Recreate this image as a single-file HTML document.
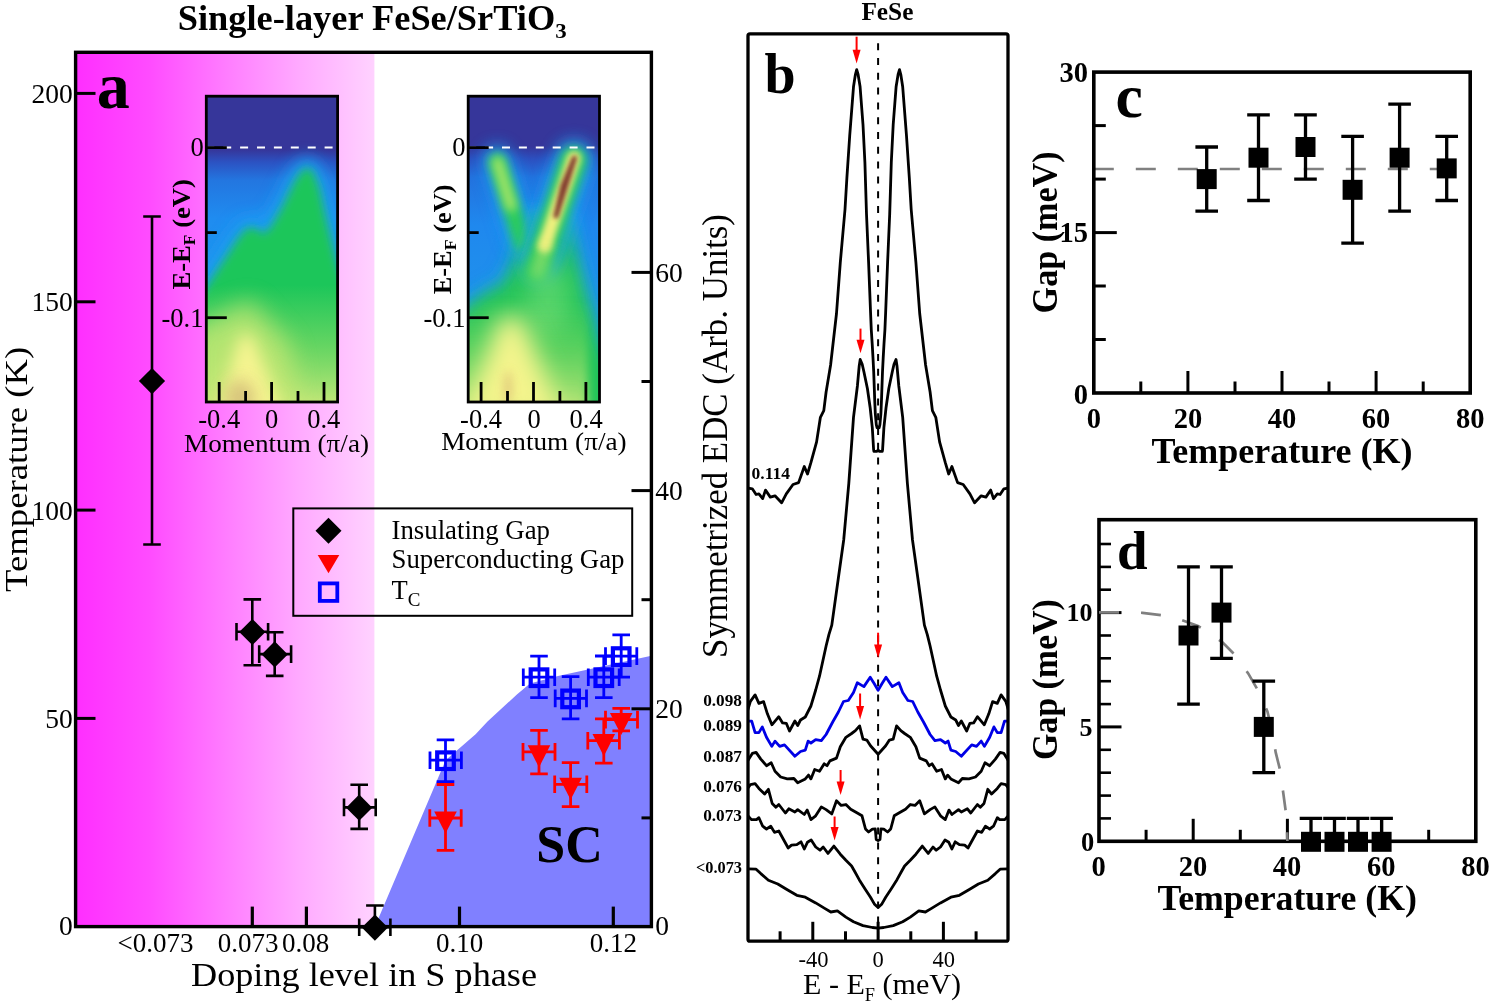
<!DOCTYPE html>
<html lang="en"><head><meta charset="utf-8"><title>Single-layer FeSe/SrTiO3 phase diagram</title>
<style>html,body{margin:0;padding:0;background:#fff}svg{display:block}text{font-family:'Liberation Serif', serif}</style>
</head><body>
<svg width="1489" height="1004" viewBox="0 0 1489 1004">
<defs>
<linearGradient id="mag" x1="0" x2="1" y1="0" y2="0">
<stop offset="0" stop-color="#ff2eff"/><stop offset="0.25" stop-color="#ff4cff"/><stop offset="0.5" stop-color="#ff7cff"/><stop offset="0.75" stop-color="#ffaaff"/><stop offset="1" stop-color="#ffd2ff"/>
</linearGradient>
</defs>
<rect width="1489" height="1004" fill="#fff"/>
<g id="panel-a">
<rect x="75.6" y="52.3" width="298.8" height="874.3" fill="url(#mag)"/>
<polygon points="375,926.6 445.6,760.2 475.6,734.2 487.5,721.5 516.9,694.5 530,683.5 558,676 651.4,655.8 651.4,926.6" fill="#8080ff"/>
<defs>
<filter id="b2" filterUnits="userSpaceOnUse" x="150" y="40" width="520" height="420"><feGaussianBlur stdDeviation="2"/></filter>
<filter id="b3" filterUnits="userSpaceOnUse" x="150" y="40" width="520" height="420"><feGaussianBlur stdDeviation="3.2"/></filter>
<filter id="b5" filterUnits="userSpaceOnUse" x="150" y="40" width="520" height="420"><feGaussianBlur stdDeviation="5"/></filter>
<filter id="b8" filterUnits="userSpaceOnUse" x="150" y="40" width="520" height="420"><feGaussianBlur stdDeviation="8"/></filter>
<filter id="b12" filterUnits="userSpaceOnUse" x="150" y="40" width="520" height="420"><feGaussianBlur stdDeviation="12"/></filter>
<linearGradient id="ig1" x1="0" x2="0" y1="0" y2="1">
<stop offset="0" stop-color="#36369a"/><stop offset="0.175" stop-color="#36369a"/>
<stop offset="0.215" stop-color="#2c52c2"/><stop offset="0.275" stop-color="#2376e0"/>
<stop offset="0.40" stop-color="#1f8cf0"/><stop offset="0.66" stop-color="#1f98ec"/>
<stop offset="0.73" stop-color="#22bb70"/><stop offset="1" stop-color="#1cc65a"/>
</linearGradient>
<linearGradient id="ig2" x1="0" x2="0" y1="0" y2="1">
<stop offset="0" stop-color="#36369a"/><stop offset="0.165" stop-color="#36369a"/>
<stop offset="0.205" stop-color="#2c50c0"/><stop offset="0.265" stop-color="#2372de"/>
<stop offset="0.42" stop-color="#1f88ee"/><stop offset="0.80" stop-color="#1f96ea"/>
<stop offset="0.88" stop-color="#22bb70"/><stop offset="1" stop-color="#22c45c"/>
</linearGradient>
<linearGradient id="yg" x1="0" x2="0" y1="0" y2="1">
<stop offset="0" stop-color="#9be068" stop-opacity="0"/><stop offset="0.45" stop-color="#9be068" stop-opacity="0.55"/><stop offset="1" stop-color="#e4ee80" stop-opacity="0.95"/>
</linearGradient>
<clipPath id="ci1"><rect x="206.3" y="96.2" width="131.3" height="305.8"/></clipPath>
<clipPath id="ci2"><rect x="468.2" y="96.2" width="131.3" height="305.8"/></clipPath>
</defs>
<g clip-path="url(#ci1)">
<rect x="206.3" y="96.2" width="132" height="306" fill="url(#ig1)"/>
<path d="M186 318 L212 281 L227 258 L240 238 L248 229 L256 230 L263 236 L272 228 L284 207 L296 182 L302 173 L307 169 L312 173 L318 189 L324 216 L334 257 L352 318 L352 420 L186 420 Z" fill="#1f9cf2" stroke="#1f9cf2" stroke-width="24" stroke-linejoin="round" filter="url(#b8)" opacity="0.95"/>
<path d="M186 318 L212 281 L227 258 L240 238 L248 229 L256 230 L263 236 L272 228 L284 207 L296 182 L302 173 L307 169 L312 173 L318 189 L324 216 L334 257 L352 318 L352 420 L186 420 Z" fill="#1cc65a" stroke="#1cc65a" stroke-width="3" stroke-linejoin="round" filter="url(#b5)"/>
<rect x="190" y="285" width="170" height="130" fill="url(#yg)"/>
<path d="M190 330 L250 300 L290 345 L300 420 L190 420 Z" fill="#c8e874" filter="url(#b12)" opacity="0.8"/>
<path d="M215 420 L240 335 L252 335 L285 420 Z" fill="#f6f490" filter="url(#b8)"/>
<ellipse cx="240" cy="398" rx="15" ry="18" fill="#d2bc78" filter="url(#b8)" opacity="0.85"/>
</g>
<g clip-path="url(#ci2)">
<rect x="468.2" y="96.2" width="132" height="306" fill="url(#ig2)"/>
<path d="M446 326 L462 313 L470.4 306 L478.7 299 L490 292 L505 284 L515 262 L527 218 L566 218 L577.8 270 L583.3 291 L590.3 312 L594.5 326 L598 340 L606 362 L618 420 L446 420 Z" fill="#1f9cf2" stroke="#1f9cf2" stroke-width="18" stroke-linejoin="round" filter="url(#b8)" opacity="0.8"/>
<path d="M446 326 L462 313 L470.4 306 L478.7 299 L490 292 L505 284 L515 262 L527 218 L566 218 L577.8 270 L583.3 291 L590.3 312 L594.5 326 L598 340 L606 362 L618 420 L446 420 Z" fill="#20c458" stroke="#20c458" stroke-width="4" stroke-linejoin="round" filter="url(#b8)"/>
<path d="M497 160 L522 240" stroke="#1f9cf2" stroke-width="30" stroke-linecap="round" fill="none" filter="url(#b8)" opacity="0.85"/>
<path d="M497.5 162 L523 244" stroke="#2ccc5c" stroke-width="18" stroke-linecap="round" fill="none" filter="url(#b5)"/>
<path d="M497.5 162 L511 206" stroke="#a8e468" stroke-width="10.5" stroke-linecap="round" fill="none" filter="url(#b5)"/>
<path d="M574 160 L540 262" stroke="#1fa0f2" stroke-width="40" stroke-linecap="round" fill="none" filter="url(#b8)" opacity="0.9"/>
<path d="M573.5 160 L536 272" stroke="#2cca5a" stroke-width="27" stroke-linecap="round" fill="none" filter="url(#b5)"/>
<path d="M546 244 L538 272" stroke="#a4e26a" stroke-width="13" stroke-linecap="round" fill="none" filter="url(#b5)" opacity="0.7"/>
<path d="M574 158 L544.5 246" stroke="#eef07e" stroke-width="14" stroke-linecap="round" fill="none" filter="url(#b3)"/>
<path d="M574.5 158 L565 188 L556 216 L563 186 Z" stroke="#80382e" stroke-width="5" stroke-linejoin="round" fill="#80382e" filter="url(#b2)"/>
<ellipse cx="548" cy="300" rx="22" ry="38" fill="#62d870" filter="url(#b12)" opacity="0.8"/>
<rect x="450" y="300" width="138" height="115" fill="url(#yg)" opacity="0.9" filter="url(#b5)"/>
<path d="M462 420 L500 316 L522 316 L562 420 Z" fill="#f4f48c" filter="url(#b12)"/>
<ellipse cx="508" cy="388" rx="4" ry="17" fill="#d8b874" filter="url(#b5)" opacity="0.7"/>
</g>
<line x1="206.3" y1="147.5" x2="335.6" y2="147.5" stroke="#fff" stroke-width="2.2" stroke-dasharray="8 8.9"/>
<rect x="206.3" y="96.2" width="131.3" height="305.8" fill="none" stroke="#000" stroke-width="2.8"/>
<line x1="206.3" y1="147.6" x2="226.8" y2="147.6" stroke="#000" stroke-width="2.8"/>
<line x1="206.3" y1="232.6" x2="216.8" y2="232.6" stroke="#000" stroke-width="2.8"/>
<line x1="206.3" y1="317.7" x2="226.8" y2="317.7" stroke="#000" stroke-width="2.8"/>
<line x1="219.2" y1="402.0" x2="219.2" y2="382.0" stroke="#000" stroke-width="2.8"/>
<line x1="245.6" y1="402.0" x2="245.6" y2="391.0" stroke="#000" stroke-width="2.8"/>
<line x1="271.6" y1="402.0" x2="271.6" y2="382.0" stroke="#000" stroke-width="2.8"/>
<line x1="298.0" y1="402.0" x2="298.0" y2="391.0" stroke="#000" stroke-width="2.8"/>
<line x1="324.0" y1="402.0" x2="324.0" y2="382.0" stroke="#000" stroke-width="2.8"/>
<text x="203.7" y="155.8" font-size="26.5" text-anchor="end">0</text>
<text x="203.5" y="326.5" font-size="26.5" text-anchor="end">-0.1</text>
<line x1="468.2" y1="147.5" x2="597.5" y2="147.5" stroke="#fff" stroke-width="2.2" stroke-dasharray="8 8.9"/>
<rect x="468.2" y="96.2" width="131.3" height="305.8" fill="none" stroke="#000" stroke-width="2.8"/>
<line x1="468.2" y1="147.6" x2="488.7" y2="147.6" stroke="#000" stroke-width="2.8"/>
<line x1="468.2" y1="232.6" x2="478.7" y2="232.6" stroke="#000" stroke-width="2.8"/>
<line x1="468.2" y1="317.7" x2="488.7" y2="317.7" stroke="#000" stroke-width="2.8"/>
<line x1="481.1" y1="402.0" x2="481.1" y2="382.0" stroke="#000" stroke-width="2.8"/>
<line x1="507.5" y1="402.0" x2="507.5" y2="391.0" stroke="#000" stroke-width="2.8"/>
<line x1="533.5" y1="402.0" x2="533.5" y2="382.0" stroke="#000" stroke-width="2.8"/>
<line x1="559.9" y1="402.0" x2="559.9" y2="391.0" stroke="#000" stroke-width="2.8"/>
<line x1="585.9" y1="402.0" x2="585.9" y2="382.0" stroke="#000" stroke-width="2.8"/>
<text x="465.6" y="155.8" font-size="26.5" text-anchor="end">0</text>
<text x="465.4" y="326.5" font-size="26.5" text-anchor="end">-0.1</text>
<text x="219.2" y="428.1" font-size="26.5" text-anchor="middle">-0.4</text>
<text x="271.6" y="428.1" font-size="26.5" text-anchor="middle">0</text>
<text x="323.8" y="428.1" font-size="26.5" text-anchor="middle">0.4</text>
<text x="481.1" y="427.8" font-size="26.5" text-anchor="middle">-0.4</text>
<text x="534.2" y="427.8" font-size="26.5" text-anchor="middle">0</text>
<text x="586.1" y="427.8" font-size="26.5" text-anchor="middle">0.4</text>
<text x="276.5" y="451.7" font-size="25.5" text-anchor="middle" textLength="185.0" lengthAdjust="spacingAndGlyphs">Momentum (π/a)</text>
<text x="533.9" y="449.5" font-size="25.5" text-anchor="middle" textLength="185.5" lengthAdjust="spacingAndGlyphs">Momentum (π/a)</text>
<text x="190.0" y="234.3" font-size="26" font-weight="bold" text-anchor="middle" transform="rotate(-90 190.0 234.3)" textLength="110.6" lengthAdjust="spacingAndGlyphs">E-E<tspan font-size="17" dy="5">F</tspan><tspan dy="-5"> (eV)</tspan></text>
<text x="451.3" y="239.4" font-size="25" font-weight="bold" text-anchor="middle" transform="rotate(-90 451.3 239.4)" textLength="109.7" lengthAdjust="spacingAndGlyphs">E-E<tspan font-size="17" dy="5">F</tspan><tspan dy="-5"> (eV)</tspan></text>
<rect x="75.6" y="52.3" width="575.8" height="874.3000000000001" fill="none" stroke="#000" stroke-width="3.4"/>
<line x1="75.6" y1="718.4" x2="95.5" y2="718.4" stroke="#000" stroke-width="3"/>
<text x="72.8" y="728.0" font-size="27.5" text-anchor="end">50</text>
<line x1="75.6" y1="510.1" x2="95.5" y2="510.1" stroke="#000" stroke-width="3"/>
<text x="72.8" y="519.7" font-size="27.5" text-anchor="end">100</text>
<line x1="75.6" y1="301.8" x2="95.5" y2="301.8" stroke="#000" stroke-width="3"/>
<text x="72.8" y="311.4" font-size="27.5" text-anchor="end">150</text>
<line x1="75.6" y1="93.4" x2="95.5" y2="93.4" stroke="#000" stroke-width="3"/>
<text x="72.8" y="103.0" font-size="27.5" text-anchor="end">200</text>
<text x="72.8" y="935.4" font-size="27.5" text-anchor="end">0</text>
<line x1="641.5" y1="817.9" x2="651.4" y2="817.9" stroke="#000" stroke-width="3"/>
<line x1="631.5" y1="708.8" x2="651.4" y2="708.8" stroke="#000" stroke-width="3"/>
<text x="655.3" y="718.2" font-size="27.5">20</text>
<line x1="641.5" y1="599.7" x2="651.4" y2="599.7" stroke="#000" stroke-width="3"/>
<line x1="631.5" y1="490.6" x2="651.4" y2="490.6" stroke="#000" stroke-width="3"/>
<text x="655.3" y="500.0" font-size="27.5">40</text>
<line x1="641.5" y1="381.5" x2="651.4" y2="381.5" stroke="#000" stroke-width="3"/>
<line x1="631.5" y1="272.4" x2="651.4" y2="272.4" stroke="#000" stroke-width="3"/>
<text x="655.3" y="281.8" font-size="27.5">60</text>
<text x="655.3" y="935.4" font-size="27.5">0</text>
<line x1="252.3" y1="926.6" x2="252.3" y2="906.6" stroke="#000" stroke-width="3.2"/>
<text x="248.1" y="952.1" font-size="27" text-anchor="middle">0.073</text>
<line x1="306.4" y1="926.6" x2="306.4" y2="906.6" stroke="#000" stroke-width="3.2"/>
<text x="305.5" y="952.1" font-size="27" text-anchor="middle">0.08</text>
<line x1="459.5" y1="926.6" x2="459.5" y2="906.6" stroke="#000" stroke-width="3.2"/>
<text x="459.5" y="952.1" font-size="27" text-anchor="middle">0.10</text>
<line x1="613.3" y1="926.6" x2="613.3" y2="906.6" stroke="#000" stroke-width="3.2"/>
<text x="613.3" y="952.1" font-size="27" text-anchor="middle">0.12</text>
<text x="155.6" y="952.1" font-size="27" text-anchor="middle">&lt;0.073</text>
<text x="364.0" y="986.4" font-size="34" text-anchor="middle" textLength="346.0" lengthAdjust="spacingAndGlyphs">Doping level in S phase</text>
<text x="26.8" y="469.4" font-size="32.5" text-anchor="middle" transform="rotate(-90 26.8 469.4)" textLength="245.0" lengthAdjust="spacingAndGlyphs">Temperature (K)</text>
<text x="372.2" y="29.6" font-size="35" font-weight="bold" text-anchor="middle" textLength="389.0" lengthAdjust="spacingAndGlyphs">Single-layer FeSe/SrTiO<tspan font-size="22" dy="8.5">3</tspan></text>
<text x="96.8" y="107.6" font-size="66" font-weight="bold">a</text>
<text x="536.3" y="862.2" font-size="52" font-weight="bold">SC</text>
<rect x="293.3" y="508.4" width="338.9" height="107.4" fill="none" stroke="#000" stroke-width="2"/>
<polygon points="315.5,530.8 328.5,517.8 341.5,530.8 328.5,543.8" fill="#000"/>
<polygon points="317.7,555.0 339.3,555.0 328.5,573.2" fill="#f00"/>
<rect x="319.8" y="583.4" width="17.5" height="17.5" fill="none" stroke="#00f" stroke-width="3.8"/>
<text x="391.5" y="538.5" font-size="26.5" textLength="158.5" lengthAdjust="spacingAndGlyphs">Insulating Gap</text>
<text x="391.5" y="567.8" font-size="26.5" textLength="233.0" lengthAdjust="spacingAndGlyphs">Superconducting Gap</text>
<text x="391.5" y="599.2" font-size="26.5">T<tspan font-size="19" dy="6.5">C</tspan></text>
<polygon points="138.9,381.1 152.0,368.0 165.1,381.1 152.0,394.2" fill="#000"/>
<path d="M152.0 216.5V544.5M143.2 216.5H160.8M143.2 544.5H160.8" stroke="#000" stroke-width="2.6" fill="none"/>
<polygon points="239.2,632.0 252.3,618.9 265.4,632.0 252.3,645.1" fill="#000"/>
<path d="M236.5 631.7H268.1M236.5 622.9V640.5M268.1 622.9V640.5M252.3 599.4V665.2M243.5 599.4H261.1M243.5 665.2H261.1" stroke="#000" stroke-width="2.6" fill="none"/>
<polygon points="261.6,654.4 274.7,641.3 287.8,654.4 274.7,667.5" fill="#000"/>
<path d="M259.2 654.1H291.1M259.2 645.3V662.9M291.1 645.3V662.9M274.7 632.3V675.9M265.9 632.3H283.5M265.9 675.9H283.5" stroke="#000" stroke-width="2.6" fill="none"/>
<polygon points="346.1,807.7 359.2,794.6 372.3,807.7 359.2,820.8" fill="#000"/>
<path d="M344.0 807.4H375.7M344.0 798.6V816.2M375.7 798.6V816.2M359.2 784.7V828.9M350.4 784.7H368.0M350.4 828.9H368.0" stroke="#000" stroke-width="2.6" fill="none"/>
<polygon points="361.8,927.6 374.9,914.5 388.0,927.6 374.9,940.7" fill="#000"/>
<path d="M359.2 927.3H390.4M359.2 918.5V936.1M390.4 918.5V936.1M374.9 905.5V927.3M366.1 905.5H383.7M366.1 927.3H383.7" stroke="#000" stroke-width="2.6" fill="none"/>
<rect x="437.2" y="752.4" width="16.6" height="16.6" fill="none" stroke="#00f" stroke-width="4.2"/>
<path d="M430.0 760.2H461.4M430.0 751.4V769.0M461.4 751.4V769.0M445.5 739.9V781.7M436.7 739.9H454.3M436.7 781.7H454.3" stroke="#00f" stroke-width="2.8" fill="none"/>
<rect x="530.7" y="669.4" width="16.6" height="16.6" fill="none" stroke="#00f" stroke-width="4.2"/>
<path d="M523.3 677.2H554.7M523.3 668.4V686.0M554.7 668.4V686.0M539.0 656.1V697.6M530.2 656.1H547.8M530.2 697.6H547.8" stroke="#00f" stroke-width="2.8" fill="none"/>
<rect x="562.3" y="690.6" width="16.6" height="16.6" fill="none" stroke="#00f" stroke-width="4.2"/>
<path d="M555.2 698.4H586.5M555.2 689.6V707.2M586.5 689.6V707.2M570.6 676.7V718.8M561.8 676.7H579.4M561.8 718.8H579.4" stroke="#00f" stroke-width="2.8" fill="none"/>
<rect x="595.5" y="669.4" width="16.6" height="16.6" fill="none" stroke="#00f" stroke-width="4.2"/>
<path d="M588.3 677.2H619.2M588.3 668.4V686.0M619.2 668.4V686.0M603.8 656.0V697.6M595.0 656.0H612.6M595.0 697.6H612.6" stroke="#00f" stroke-width="2.8" fill="none"/>
<rect x="612.9" y="648.3" width="16.6" height="16.6" fill="none" stroke="#00f" stroke-width="4.2"/>
<path d="M605.5 656.1H636.8M605.5 647.3V664.9M636.8 647.3V664.9M621.2 634.9V677.2M612.4 634.9H630.0M612.4 677.2H630.0" stroke="#00f" stroke-width="2.8" fill="none"/>
<polygon points="434.2,811.4 456.8,811.4 445.5,833.5" fill="#f00"/>
<path d="M429.8 818.0H461.2M429.8 809.2V826.8M461.2 809.2V826.8M445.5 784.5V850.3M436.7 784.5H454.3M436.7 850.3H454.3" stroke="#f00" stroke-width="2.8" fill="none"/>
<polygon points="527.7,745.3 550.3,745.3 539.0,767.4" fill="#f00"/>
<path d="M523.0 751.9H555.0M523.0 743.1V760.7M555.0 743.1V760.7M539.0 730.3V773.8M530.2 730.3H547.8M530.2 773.8H547.8" stroke="#f00" stroke-width="2.8" fill="none"/>
<polygon points="559.3,777.7 581.9,777.7 570.6,799.8" fill="#f00"/>
<path d="M554.7 784.3H586.8M554.7 775.5V793.1M586.8 775.5V793.1M570.6 762.6V806.7M561.8 762.6H579.4M561.8 806.7H579.4" stroke="#f00" stroke-width="2.8" fill="none"/>
<polygon points="592.5,734.1 615.1,734.1 603.8,756.2" fill="#f00"/>
<path d="M587.8 740.7H619.4M587.8 731.9V749.5M619.4 731.9V749.5M603.8 718.8V763.1M595.0 718.8H612.6M595.0 763.1H612.6" stroke="#f00" stroke-width="2.8" fill="none"/>
<polygon points="609.9,713.0 632.5,713.0 621.2,735.1" fill="#f00"/>
<path d="M605.5 719.6H637.5M605.5 710.8V728.4M637.5 710.8V728.4M621.2 708.4V730.8M612.4 708.4H630.0M612.4 730.8H630.0" stroke="#f00" stroke-width="2.8" fill="none"/>
</g>
<g id="panel-b">
<clipPath id="clipb"><rect x="748.0" y="33.8" width="260.0" height="907.4000000000001"/></clipPath>
<line x1="878.1" y1="43.2" x2="878.1" y2="941.2" stroke="#000" stroke-width="2" stroke-dasharray="7 7.8"/>
<g clip-path="url(#clipb)" fill="none" stroke-width="2.8" stroke-linejoin="round" stroke-linecap="round">
<path d="M747.6 868.9L756.1 869.2L760.8 873.6L768.4 880.2L777.8 884.0L787.3 889.7L796.8 895.3L805.3 897.2L815.7 902.9L825.1 908.6L830.8 912.0L837.4 910.9L845.9 917.1L853.5 921.8L863.0 925.6L872.4 927.5L878.1 928.1L883.8 927.5L893.2 925.6L902.7 921.8L910.3 917.1L918.8 910.9L925.4 912.0L931.1 908.6L940.5 902.9L950.9 897.2L959.4 895.3L968.9 889.7L978.4 884.0L987.8 880.2L995.4 873.6L1000.1 869.2L1008.6 868.9" stroke="#000"/>
<path d="M747.6 815.4L751.4 819.6L756.5 819.6L758.9 817.7L762.7 826.2L766.5 829.0L770.8 826.2L774.5 832.4L778.8 831.0L788.2 848.0L791.5 845.1L796.8 844.7L801.0 841.8L804.3 849.0L807.4 842.3L811.2 840.0L815.7 847.0L820.0 850.2L823.2 847.0L828.0 853.4L833.9 846.1L840.3 854.2L845.9 860.3L851.6 866.0L855.0 872.0L859.2 879.7L864.9 888.7L870.5 897.2L874.3 903.9L878.1 907.6L881.9 903.9L885.7 897.2L891.3 888.7L897.0 879.7L901.2 872.0L904.6 866.0L910.3 860.3L915.9 854.2L922.3 846.1L928.2 853.4L933.0 847.0L936.2 850.2L940.5 847.0L945.0 840.0L948.8 842.3L951.9 849.0L955.2 841.8L959.4 844.7L964.7 845.1L968.0 848.0L977.4 831.0L981.7 832.4L985.4 826.2L989.7 829.0L993.5 826.2L997.3 817.7L999.7 819.6L1004.8 819.6L1008.6 815.4" stroke="#000"/>
<path d="M747.6 788.4L750.4 784.6L755.1 783.6L758.9 788.4L764.6 794.0L768.4 789.3L772.2 803.5L775.9 807.3L778.8 804.5L785.4 813.0L788.8 808.8L794.9 812.0L797.7 809.6L804.3 814.5L807.2 810.1L810.9 819.6L815.7 815.8L821.3 806.9L826.1 809.6L831.8 813.9L836.5 800.7L841.2 805.4L845.9 804.5L850.7 809.2L857.3 813.0L862.0 815.8L865.5 829.0L868.6 832.0L872.4 829.1L875.3 829.0L876.2 839.5L878.1 840.5L880.0 839.5L880.9 829.0L883.8 829.1L887.6 832.0L890.7 829.0L894.2 815.8L898.9 813.0L905.5 809.2L910.3 804.5L915.0 805.4L919.7 800.7L924.4 813.9L930.1 809.6L934.9 806.9L940.5 815.8L945.3 819.6L949.0 810.1L951.9 814.5L958.5 809.6L961.3 812.0L967.4 808.8L970.8 813.0L977.4 804.5L980.3 807.3L984.0 803.5L987.8 789.3L991.6 794.0L997.3 788.4L1001.1 783.6L1005.8 784.6L1008.6 788.4" stroke="#000"/>
<path d="M747.6 760.9L752.3 753.4L756.1 752.4L760.8 759.1L766.5 765.7L771.2 762.8L775.0 771.3L780.7 777.0L787.3 778.9L793.9 778.5L797.7 782.7L805.3 778.9L808.5 775.1L810.9 778.9L814.7 769.5L819.5 771.3L824.2 763.8L827.0 765.7L829.9 760.9L836.5 758.1L840.3 746.8L845.9 737.3L851.6 733.5L855.4 730.7L859.6 725.9L863.0 739.2L866.8 740.1L870.5 745.8L878.1 754.3L885.7 745.8L889.4 740.1L893.2 739.2L896.6 725.9L900.8 730.7L904.6 733.5L910.3 737.3L915.9 746.8L919.7 758.1L926.3 760.9L929.2 765.7L932.0 763.8L936.7 771.3L941.5 769.5L945.3 778.9L947.7 775.1L950.9 778.9L958.5 782.7L962.3 778.5L968.9 778.9L975.5 777.0L981.2 771.3L985.0 762.8L989.7 765.7L995.4 759.1L1000.1 752.4L1003.9 753.4L1008.6 760.9" stroke="#000"/>
<path d="M747.6 721.2L751.7 721.2L755.1 732.6L758.9 732.6L762.3 726.9L766.5 737.3L771.8 746.4L775.0 741.1L779.7 746.4L784.5 744.9L794.9 756.2L800.5 751.5L805.3 750.2L808.1 741.1L810.9 743.0L815.7 739.6L821.3 740.7L826.1 734.5L832.7 722.0L838.4 712.0L843.5 701.5L848.3 700.5L853.5 692.5L857.3 682.8L863.9 686.6L870.2 677.2L874.3 683.8L878.1 690.4L881.9 683.8L886.0 677.2L892.3 686.6L898.9 682.8L902.7 692.5L907.9 700.5L912.7 701.5L917.8 712.0L923.5 722.0L930.1 734.5L934.9 740.7L940.5 739.6L945.3 743.0L948.1 741.1L950.9 750.2L955.7 751.5L961.3 756.2L971.7 744.9L976.5 746.4L981.2 741.1L984.4 746.4L989.7 737.3L993.9 726.9L997.3 732.6L1001.1 732.6L1004.5 721.2L1008.6 721.2" stroke="#0000e6"/>
<path d="M747.6 710.5L750.4 701.4L755.1 694.9L758.9 703.4L763.6 701.6L767.4 713.8L771.9 724.8L778.8 716.7L782.6 722.9L786.3 723.3L789.5 731.0L794.9 721.0L797.7 725.5L800.5 720.0L805.3 717.0L810.9 706.0L815.7 690.0L819.5 676.2L826.1 646.0L828.9 634.6L831.8 625.1L838.4 577.8L843.7 540.0L848.8 483.5L853.5 417.3L857.4 386.0L859.2 366.0L860.2 359.5L862.2 364.2L863.9 371.8L867.4 388.5L870.2 408.0L872.3 427.6L873.6 449.5L873.9 451.3L877.0 451.3L878.1 450.0L879.2 451.3L882.3 451.3L882.6 449.5L883.9 427.6L886.0 408.0L888.8 388.5L892.3 371.8L894.0 364.2L896.0 359.5L897.0 366.0L898.8 386.0L902.7 417.3L907.4 483.5L912.5 540.0L917.8 577.8L924.4 625.1L927.3 634.6L930.1 646.0L936.7 676.2L940.5 690.0L945.3 706.0L950.9 717.0L955.7 720.0L958.5 725.5L961.3 721.0L966.7 731.0L969.9 723.3L973.6 722.9L977.4 716.7L984.3 724.8L988.8 713.8L992.6 701.6L997.3 703.4L1001.1 694.9L1005.8 701.4L1008.6 710.5" stroke="#000"/>
<path d="M748.5 488.2L752.3 488.8L756.1 494.5L758.9 493.9L762.7 498.6L765.5 490.1L770.3 497.1L775.0 495.8L781.6 502.8L786.3 493.9L793.0 484.5L798.6 482.6L804.3 466.5L807.5 474.0L810.9 462.7L816.6 441.9L820.4 417.3L823.8 410.7L826.1 392.0L830.6 365.0L836.5 313.5L840.3 262.4L845.0 209.5L846.9 177.6L849.7 135.9L853.5 86.8L855.4 74.5L856.7 69.7L858.1 74.5L860.1 86.8L863.0 124.6L864.9 162.4L866.5 214.0L868.6 262.4L870.6 313.5L871.3 330.0L872.2 343.9L873.0 357.9L873.7 371.8L874.2 385.7L874.7 399.7L875.3 413.6L876.3 424.6L877.1 427.8L878.1 428.2L879.1 427.8L879.9 424.6L880.9 413.6L881.5 399.7L882.0 385.7L882.5 371.8L883.2 357.9L884.0 343.9L884.9 330.0L885.6 313.5L887.6 262.4L889.7 214.0L891.3 162.4L893.2 124.6L896.1 86.8L898.1 74.5L899.5 69.7L900.8 74.5L902.7 86.8L906.5 135.9L909.3 177.6L911.2 209.5L915.9 262.4L919.7 313.5L925.6 365.0L930.1 392.0L932.4 410.7L935.8 417.3L939.6 441.9L945.3 462.7L948.7 474.0L951.9 466.5L957.6 482.6L963.2 484.5L969.9 493.9L974.6 502.8L981.2 495.8L985.9 497.1L990.7 490.1L993.5 498.6L997.3 493.9L1000.1 494.5L1003.9 488.8L1007.7 488.2" stroke="#000"/>
</g>
<path d="M856.6 36.7V53.4" stroke="#f00" stroke-width="2" fill="none"/>
<polygon points="852.6,49.8 860.6,49.8 856.6,63.4" fill="#f00"/>
<path d="M860.5 328.6V343.3" stroke="#f00" stroke-width="2" fill="none"/>
<polygon points="856.5,339.7 864.5,339.7 860.5,353.3" fill="#f00"/>
<path d="M878.1 632.7V648.2" stroke="#f00" stroke-width="2" fill="none"/>
<polygon points="874.1,644.6 882.1,644.6 878.1,658.2" fill="#f00"/>
<path d="M860.1 693.5V709.6" stroke="#f00" stroke-width="2" fill="none"/>
<polygon points="856.1,706.0 864.1,706.0 860.1,719.6" fill="#f00"/>
<path d="M840.6 770.0V785.0" stroke="#f00" stroke-width="2" fill="none"/>
<polygon points="836.6,781.4 844.6,781.4 840.6,795.0" fill="#f00"/>
<path d="M834.6 816.5V830.5" stroke="#f00" stroke-width="2" fill="none"/>
<polygon points="830.6,826.9 838.6,826.9 834.6,840.5" fill="#f00"/>
<rect x="748.0" y="33.8" width="260.0" height="907.4000000000001" fill="none" stroke="#000" stroke-width="3.3" rx="2"/>
<line x1="780.1" y1="941.2" x2="780.1" y2="931.3" stroke="#000" stroke-width="3"/>
<line x1="812.8" y1="941.2" x2="812.8" y2="921.8" stroke="#000" stroke-width="3"/>
<text x="813.4" y="966.8" font-size="22.5" text-anchor="middle">-40</text>
<line x1="845.5" y1="941.2" x2="845.5" y2="931.3" stroke="#000" stroke-width="3"/>
<line x1="878.1" y1="941.2" x2="878.1" y2="921.8" stroke="#000" stroke-width="3"/>
<text x="878.1" y="966.8" font-size="22.5" text-anchor="middle">0</text>
<line x1="910.8" y1="941.2" x2="910.8" y2="931.3" stroke="#000" stroke-width="3"/>
<line x1="943.4" y1="941.2" x2="943.4" y2="921.8" stroke="#000" stroke-width="3"/>
<text x="943.8" y="966.8" font-size="22.5" text-anchor="middle">40</text>
<line x1="976.1" y1="941.2" x2="976.1" y2="931.3" stroke="#000" stroke-width="3"/>
<text x="882.0" y="994.0" font-size="29.5" text-anchor="middle" textLength="158.0" lengthAdjust="spacingAndGlyphs">E - E<tspan font-size="18" dy="6.8">F</tspan><tspan dy="-6.8"> (meV)</tspan></text>
<text x="887.4" y="19.5" font-size="25" font-weight="bold" text-anchor="middle" textLength="52.0" lengthAdjust="spacingAndGlyphs">FeSe</text>
<text x="764.5" y="92.8" font-size="56" font-weight="bold">b</text>
<text x="751.5" y="478.8" font-size="16.5" font-weight="bold" textLength="38.5" lengthAdjust="spacingAndGlyphs">0.114</text>
<text x="742.0" y="705.9" font-size="16.5" font-weight="bold" text-anchor="end" textLength="38.8" lengthAdjust="spacingAndGlyphs">0.098</text>
<text x="742.0" y="731.3" font-size="16.5" font-weight="bold" text-anchor="end" textLength="38.8" lengthAdjust="spacingAndGlyphs">0.089</text>
<text x="742.0" y="762.2" font-size="16.5" font-weight="bold" text-anchor="end" textLength="38.8" lengthAdjust="spacingAndGlyphs">0.087</text>
<text x="742.0" y="791.6" font-size="16.5" font-weight="bold" text-anchor="end" textLength="38.8" lengthAdjust="spacingAndGlyphs">0.076</text>
<text x="742.0" y="820.8" font-size="16.5" font-weight="bold" text-anchor="end" textLength="38.8" lengthAdjust="spacingAndGlyphs">0.073</text>
<text x="742.0" y="872.9" font-size="16.5" font-weight="bold" text-anchor="end" textLength="46.0" lengthAdjust="spacingAndGlyphs">&lt;0.073</text>
<text x="727.4" y="436.0" font-size="35" text-anchor="middle" transform="rotate(-90 727.4 436.0)" textLength="444.0" lengthAdjust="spacingAndGlyphs">Symmetrized EDC (Arb. Units)</text>
</g>
<g id="panel-c">
<line x1="1093.8" y1="169.0" x2="1470.2" y2="169.0" stroke="#808080" stroke-width="2.7" stroke-dasharray="20 22"/>
<path d="M1206.7 147.0V211.2M1195.4 147.0H1218.0M1195.4 211.2H1218.0" stroke="#000" stroke-width="3.3" fill="none"/>
<rect x="1196.7" y="169.1" width="20" height="20" fill="#000"/>
<path d="M1258.5 114.9V200.5M1247.2 114.9H1269.8M1247.2 200.5H1269.8" stroke="#000" stroke-width="3.3" fill="none"/>
<rect x="1248.5" y="147.7" width="20" height="20" fill="#000"/>
<path d="M1305.5 114.9V179.1M1294.2 114.9H1316.8M1294.2 179.1H1316.8" stroke="#000" stroke-width="3.3" fill="none"/>
<rect x="1295.5" y="137.0" width="20" height="20" fill="#000"/>
<path d="M1352.6 136.3V243.2M1341.3 136.3H1363.9M1341.3 243.2H1363.9" stroke="#000" stroke-width="3.3" fill="none"/>
<rect x="1342.6" y="179.8" width="20" height="20" fill="#000"/>
<path d="M1399.6 104.2V211.2M1388.3 104.2H1410.9M1388.3 211.2H1410.9" stroke="#000" stroke-width="3.3" fill="none"/>
<rect x="1389.6" y="147.7" width="20" height="20" fill="#000"/>
<path d="M1446.7 136.3V200.5M1435.4 136.3H1458.0M1435.4 200.5H1458.0" stroke="#000" stroke-width="3.3" fill="none"/>
<rect x="1436.7" y="158.4" width="20" height="20" fill="#000"/>
<rect x="1093.8" y="72.1" width="376.4" height="320.9" fill="none" stroke="#000" stroke-width="3.6"/>
<line x1="1093.8" y1="339.5" x2="1105.8" y2="339.5" stroke="#000" stroke-width="3"/>
<line x1="1093.8" y1="286.0" x2="1105.8" y2="286.0" stroke="#000" stroke-width="3"/>
<line x1="1093.8" y1="232.6" x2="1116.8" y2="232.6" stroke="#000" stroke-width="3"/>
<line x1="1093.8" y1="179.1" x2="1105.8" y2="179.1" stroke="#000" stroke-width="3"/>
<line x1="1093.8" y1="125.6" x2="1105.8" y2="125.6" stroke="#000" stroke-width="3"/>
<line x1="1140.8" y1="393.0" x2="1140.8" y2="381.5" stroke="#000" stroke-width="3"/>
<line x1="1187.9" y1="393.0" x2="1187.9" y2="371.0" stroke="#000" stroke-width="3"/>
<line x1="1235.0" y1="393.0" x2="1235.0" y2="381.5" stroke="#000" stroke-width="3"/>
<line x1="1282.0" y1="393.0" x2="1282.0" y2="371.0" stroke="#000" stroke-width="3"/>
<line x1="1329.0" y1="393.0" x2="1329.0" y2="381.5" stroke="#000" stroke-width="3"/>
<line x1="1376.1" y1="393.0" x2="1376.1" y2="371.0" stroke="#000" stroke-width="3"/>
<line x1="1423.2" y1="393.0" x2="1423.2" y2="381.5" stroke="#000" stroke-width="3"/>
<text x="1093.8" y="428.3" font-size="28.5" font-weight="bold" text-anchor="middle">0</text>
<text x="1187.9" y="428.3" font-size="28.5" font-weight="bold" text-anchor="middle">20</text>
<text x="1282.0" y="428.3" font-size="28.5" font-weight="bold" text-anchor="middle">40</text>
<text x="1376.1" y="428.3" font-size="28.5" font-weight="bold" text-anchor="middle">60</text>
<text x="1470.2" y="428.3" font-size="28.5" font-weight="bold" text-anchor="middle">80</text>
<text x="1088.0" y="82.0" font-size="28.5" font-weight="bold" text-anchor="end">30</text>
<text x="1088.0" y="241.6" font-size="28.5" font-weight="bold" text-anchor="end">15</text>
<text x="1088.0" y="404.0" font-size="28.5" font-weight="bold" text-anchor="end">0</text>
<text x="1282.0" y="462.7" font-size="35" font-weight="bold" text-anchor="middle" textLength="261.0" lengthAdjust="spacingAndGlyphs">Temperature (K)</text>
<text x="1057.5" y="232.4" font-size="35" font-weight="bold" text-anchor="middle" transform="rotate(-90 1057.5 232.4)" textLength="162.0" lengthAdjust="spacingAndGlyphs">Gap (meV)</text>
<text x="1115.5" y="116.6" font-size="61.5" font-weight="bold">c</text>
</g>
<g id="panel-d">
<rect x="1099.0" y="519.7" width="376.8" height="321.6" fill="none" stroke="#000" stroke-width="3.6"/>
<line x1="1146.1" y1="841.3" x2="1146.1" y2="829.8" stroke="#000" stroke-width="3"/>
<line x1="1193.2" y1="841.3" x2="1193.2" y2="818.8" stroke="#000" stroke-width="3"/>
<line x1="1240.3" y1="841.3" x2="1240.3" y2="829.8" stroke="#000" stroke-width="3"/>
<line x1="1287.4" y1="841.3" x2="1287.4" y2="818.8" stroke="#000" stroke-width="3"/>
<line x1="1334.5" y1="841.3" x2="1334.5" y2="829.8" stroke="#000" stroke-width="3"/>
<line x1="1381.6" y1="841.3" x2="1381.6" y2="818.8" stroke="#000" stroke-width="3"/>
<line x1="1428.7" y1="841.3" x2="1428.7" y2="829.8" stroke="#000" stroke-width="3"/>
<line x1="1099.0" y1="818.4" x2="1111.0" y2="818.4" stroke="#000" stroke-width="2.6"/>
<line x1="1099.0" y1="795.6" x2="1111.0" y2="795.6" stroke="#000" stroke-width="2.6"/>
<line x1="1099.0" y1="772.7" x2="1111.0" y2="772.7" stroke="#000" stroke-width="2.6"/>
<line x1="1099.0" y1="749.8" x2="1111.0" y2="749.8" stroke="#000" stroke-width="2.6"/>
<line x1="1099.0" y1="726.9" x2="1121.5" y2="726.9" stroke="#000" stroke-width="3"/>
<line x1="1099.0" y1="704.1" x2="1111.0" y2="704.1" stroke="#000" stroke-width="2.6"/>
<line x1="1099.0" y1="681.2" x2="1111.0" y2="681.2" stroke="#000" stroke-width="2.6"/>
<line x1="1099.0" y1="658.3" x2="1111.0" y2="658.3" stroke="#000" stroke-width="2.6"/>
<line x1="1099.0" y1="635.5" x2="1111.0" y2="635.5" stroke="#000" stroke-width="2.6"/>
<line x1="1099.0" y1="612.6" x2="1121.5" y2="612.6" stroke="#000" stroke-width="3"/>
<line x1="1099.0" y1="589.7" x2="1111.0" y2="589.7" stroke="#000" stroke-width="2.6"/>
<line x1="1099.0" y1="566.9" x2="1111.0" y2="566.9" stroke="#000" stroke-width="2.6"/>
<line x1="1099.0" y1="544.0" x2="1111.0" y2="544.0" stroke="#000" stroke-width="2.6"/>
<path d="M1099.0 612.4L1121.0 612.4L1142.5 612.8L1162.5 615.3L1180.0 619.5L1198.0 626.0L1210.0 633.0L1222.7 642.6L1235.0 655.0L1248.2 673.4L1258.0 690.4L1267.4 711.4L1272.0 730.0L1275.7 752.4L1280.3 770.9L1283.4 794.0L1285.9 812.5L1286.8 823.3L1287.4 841.0" fill="none" stroke="#808080" stroke-width="2.7" stroke-dasharray="20 22"/>
<path d="M1188.5 566.9V704.1M1177.2 566.9H1199.8M1177.2 704.1H1199.8" stroke="#000" stroke-width="3.3" fill="none"/>
<rect x="1178.5" y="625.5" width="20" height="20" fill="#000"/>
<path d="M1221.5 566.9V658.3M1210.2 566.9H1232.8M1210.2 658.3H1232.8" stroke="#000" stroke-width="3.3" fill="none"/>
<rect x="1211.5" y="602.6" width="20" height="20" fill="#000"/>
<path d="M1263.8 681.2V772.7M1252.5 681.2H1275.1M1252.5 772.7H1275.1" stroke="#000" stroke-width="3.3" fill="none"/>
<rect x="1253.8" y="716.9" width="20" height="20" fill="#000"/>
<path d="M1311.0 841.3V818.4M1299.7 818.4H1322.2" stroke="#000" stroke-width="3.3" fill="none"/>
<rect x="1301.0" y="831.8" width="20" height="20" fill="#000"/>
<path d="M1334.5 841.3V818.4M1323.2 818.4H1345.8" stroke="#000" stroke-width="3.3" fill="none"/>
<rect x="1324.5" y="831.8" width="20" height="20" fill="#000"/>
<path d="M1358.0 841.3V818.4M1346.8 818.4H1369.3" stroke="#000" stroke-width="3.3" fill="none"/>
<rect x="1348.0" y="831.8" width="20" height="20" fill="#000"/>
<path d="M1381.6 841.3V818.4M1370.3 818.4H1392.9" stroke="#000" stroke-width="3.3" fill="none"/>
<rect x="1371.6" y="831.8" width="20" height="20" fill="#000"/>
<text x="1098.7" y="876.0" font-size="28.5" font-weight="bold" text-anchor="middle">0</text>
<text x="1192.9" y="876.0" font-size="28.5" font-weight="bold" text-anchor="middle">20</text>
<text x="1287.1" y="876.0" font-size="28.5" font-weight="bold" text-anchor="middle">40</text>
<text x="1381.3" y="876.0" font-size="28.5" font-weight="bold" text-anchor="middle">60</text>
<text x="1475.5" y="876.0" font-size="28.5" font-weight="bold" text-anchor="middle">80</text>
<text x="1092.4" y="620.6" font-size="26" font-weight="bold" text-anchor="end">10</text>
<text x="1092.4" y="736.2" font-size="26" font-weight="bold" text-anchor="end">5</text>
<text x="1094.3" y="850.6" font-size="26.5" font-weight="bold" text-anchor="end">0</text>
<text x="1287.3" y="910.4" font-size="35" font-weight="bold" text-anchor="middle" textLength="259.4" lengthAdjust="spacingAndGlyphs">Temperature (K)</text>
<text x="1057.0" y="679.6" font-size="35" font-weight="bold" text-anchor="middle" transform="rotate(-90 1057.0 679.6)" textLength="161.0" lengthAdjust="spacingAndGlyphs">Gap (meV)</text>
<text x="1117.0" y="568.6" font-size="55" font-weight="bold">d</text>
</g>
</svg></body></html>
